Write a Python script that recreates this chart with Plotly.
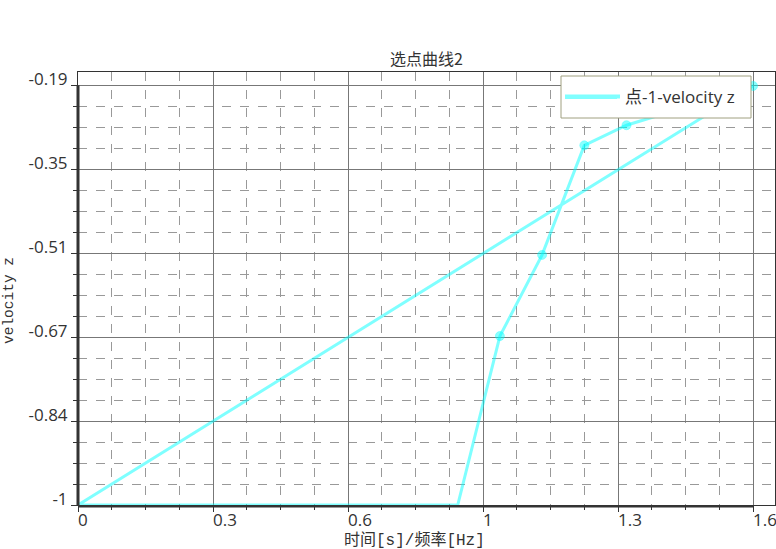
import plotly.graph_objects as go

# sampled curve (the last point closes back to the start, as in the source plot)
time_s = [0, 0.9, 1.0, 1.1, 1.2, 1.3, 1.4, 1.5, 1.6, 0]
velocity_z = [-1, -1, -0.673, -0.516, -0.304, -0.265, -0.24, -0.215, -0.189, -1]
marker_sizes = [0, 0, 9, 9, 9, 9, 9, 9, 9, 0]

x_tickvals = [0, 0.32, 0.64, 0.96, 1.28, 1.6]
x_ticktext = ["0", "0.3", "0.6", "1", "1.3", "1.6"]
y_tickvals = [-1, -0.8375, -0.675, -0.5125, -0.35, -0.1875]
y_ticktext = ["-1", "-0.84", "-0.67", "-0.51", "-0.35", "-0.19"]

cyan = "rgba(0,255,255,0.5)"
tick_font = dict(family="Open Sans, Noto Sans", size=17, color="#333")
mono = "Liberation Mono, Noto Sans CJK SC"

W, H = 776, 549
PX0, PW, PY0, PH = 78, 697, 505, 433  # plot area in pixels


def px_x(p):
    return (p - PX0) / PW


def px_y(p):
    return (PY0 - p) / PH


fig = go.Figure()
fig.add_trace(go.Scatter(
    x=time_s, y=velocity_z, mode="lines+markers", showlegend=False,
    line=dict(color=cyan, width=3),
    marker=dict(color="rgba(0,255,255,0.65)", size=marker_sizes),
))
# legend entry: line only
fig.add_trace(go.Scatter(
    x=[None], y=[None], mode="lines", name="点-1-velocity z",
    line=dict(color="#80FFFF", width=4),
))

grid = dict(showgrid=True, gridcolor="#777", gridwidth=1,
            ticks="outside", ticklen=6, tickcolor="#333",
            showline=True, linecolor="#333", linewidth=1, mirror=True,
            zeroline=False, tickfont=tick_font, automargin=False)

fig.update_xaxes(range=[0, 1.652], tickvals=x_tickvals, ticktext=x_ticktext,
                 ticklabelposition="outside right", ticklabeloverflow="allow",
                 ticklabelshift=-1,
                 minor=dict(dtick=0.08, tick0=0, showgrid=True, gridcolor="#999",
                            griddash="dash", ticks="outside", ticklen=4, tickcolor="#333"),
                 **grid)
fig.update_yaxes(range=[-1, -0.162], tickvals=y_tickvals, ticktext=y_ticktext,
                 ticklabelshift=-6, ticklabeloverflow="allow",
                 minor=dict(dtick=0.040625, tick0=-1, showgrid=True, gridcolor="#999",
                            griddash="dash", ticks="outside", ticklen=4, tickcolor="#333"),
                 **grid)

# axis titles sit a little off the plot centre in the source
fig.add_annotation(text="时间[s]/频率[Hz]", xref="paper", yref="paper",
                   x=px_x(414), y=px_y(540), xanchor="center", yanchor="middle",
                   showarrow=False, font=dict(family=mono, size=16, color="#333"))
fig.add_annotation(text="velocity z", xref="paper", yref="paper", textangle=-90,
                   x=px_x(9), y=px_y(301), xanchor="center", yanchor="middle",
                   showarrow=False, font=dict(family=mono, size=14.5, color="#333"))

# thick axis lines spanning the tick range
fig.add_shape(type="line", xref="x", yref="paper", x0=0, x1=1.6, y0=-0.003, y1=-0.003,
              line=dict(color="#333", width=2.5))
fig.add_shape(type="line", xref="paper", yref="y", x0=0, x1=0, y0=-1, y1=-0.1875,
              line=dict(color="#333", width=3))
# legend frame and its longer sample line
fig.add_shape(type="rect", xref="paper", yref="paper",
              x0=px_x(561), x1=px_x(751), y0=px_y(118), y1=px_y(76),
              fillcolor="white", line=dict(color="#A0A080", width=1), layer="above")
fig.add_shape(type="line", xref="paper", yref="paper",
              x0=px_x(565), x1=px_x(617), y0=px_y(97), y1=px_y(97),
              line=dict(color="#80FFFF", width=4), layer="above")

fig.update_layout(
    width=W, height=H,
    margin=dict(l=78, r=1, t=72, b=44),
    plot_bgcolor="white", paper_bgcolor="white",
    title=dict(text="选点曲线2", x=0.5, xref="paper", xanchor="center",
               y=1 - 59 / H, yanchor="middle", yref="container",
               font=dict(family="Noto Sans CJK SC", size=16, color="#333")),
    legend=dict(x=px_x(560), y=px_y(97), xanchor="left", yanchor="middle",
                bgcolor="rgba(0,0,0,0)", borderwidth=0, itemwidth=55,
                font=dict(family="Open Sans, Noto Sans CJK SC", size=17, color="#333")),
    showlegend=True,
)

# drop the page's default body margin so the figure fills the window
fig.write_html("out.html", config={"displayModeBar": False},
               post_script="document.body.style.margin='0';")
